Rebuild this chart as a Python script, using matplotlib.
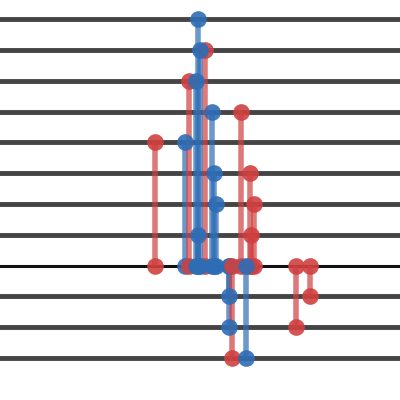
import matplotlib.pyplot as plt

n_rows = 12
base_row = 8

# stems: (x, target row, colour)
stem_x = [155, 185, 189, 198, 205, 200, 196, 212, 214, 216, 198, 241, 250, 254, 251,
          229, 229, 232, 246, 296, 310]
stem_row = [4, 4, 2, 0, 1, 1, 2, 3, 5, 6, 7, 3, 5, 6, 7,
            9, 10, 11, 11, 10, 9]
stem_col = ["r", "b", "r", "b", "r", "b", "b", "b", "b", "b", "b", "r", "r", "r", "r",
            "b", "b", "r", "b", "r", "r"]

RED = "#d04040"
BLUE = "#2e6db5"
colors = {"r": RED, "b": BLUE}

fig = plt.figure(figsize=(4, 4), dpi=100)
ax = fig.add_axes([0, 0, 1, 1])
ax.set_xlim(0, 400)
ax.set_ylim(12.36, -0.62)
ax.axis("off")

for r in range(n_rows):
    if r == base_row:
        ax.axhline(r, color="#111111", lw=2.2, zorder=1)
    else:
        ax.axhline(r, color="#444444", lw=3.5, zorder=1)

for x, r, c in zip(stem_x, stem_row, stem_col):
    ax.plot([x, x], [base_row, r], color=colors[c], lw=4, alpha=0.7, zorder=2,
            solid_capstyle="butt")
    ax.plot([x, x], [base_row, r], "o", color=colors[c], ms=12, alpha=0.9,
            mec="none", zorder=3)

fig.savefig("out.png", dpi=100)
